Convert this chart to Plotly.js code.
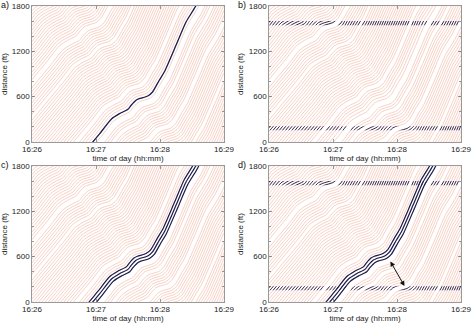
<!DOCTYPE html>
<html><head><meta charset="utf-8">
<script src="https://cdn.plot.ly/plotly-3.0.1.min.js"></script>
<style>html,body{margin:0;padding:0;background:#fff}#chart{width:474px;height:323px}</style>
</head><body><div id="chart"></div>
<script>
// ---- tick labels ----
const timeTickValues = [0, 60, 120, 180];            // seconds after 16:26:00
const timeTickLabels = ['16:26', '16:27', '16:28', '16:29'];
const distanceTicks = [0, 600, 1200, 1800];

// ---- highlighted (probe) vehicle trajectory: seconds after 16:26, feet ----
const probeTime     = [0,    57, 63.5, 74.5, 82,  90,  93,  97.5, 100.5, 108.5, 113, 119.3, 124, 135,  144.4, 153.5, 180];
const probeDistance = [-970, 0,  110,  305,  375, 432, 486, 552,  573,   609,   662, 817,   926, 1280, 1588,  1800,  2600];

// ---- car-following shift between consecutive vehicles ----
const waveLagTime = 1.35;  // s
const jamSpacing = 27;     // ft

// vehicle spacings (in vehicle steps) counted away from the probe vehicle
const leaderGaps = [1.2, 1, 1, 1, 2,
  1,1,1,1,1,1,1,1,1,1,1,1,1,1,1,1,1,1,1, 1.6,
  1,1,1,1,1,1,1, 2.2,
  1,1,1,1,1,1,1,1,1,1,1,1,1,1,1,1,1,1,1,1,1,1,1,1,1,1,1,1];
const followerGaps = [1.2, 2.6, 1, 1, 1.8,
  1,1,1,1,1,1, 2.2,
  1,1,1,1,1,1,1,1,1,1, 1.8,
  1,1,1,1,1,1,1,1,1,1,1,1,1,1,1,1,1];

// ---- loop detector zones (ft) ----
const detectorUpper = [1545, 1600];
const detectorLower = [155, 210];

// ---- arrow in panel d: [time s, distance ft] ----
const arrowFrom = [113, 556];
const arrowTo = [127, 212];

// ================= build =================
const vehicleSteps = [0];
let acc = 0;
leaderGaps.forEach(g => { acc -= g; vehicleSteps.unshift(acc); });
acc = 0;
followerGaps.forEach(g => { acc += g; vehicleSteps.push(acc); });
const leaderStep = -leaderGaps[0], followerStep = followerGaps[0];

function trajectory(step) {
  return {
    t: probeTime.map(t => t + step * waveLagTime),
    d: probeDistance.map(d => d - step * jamSpacing)
  };
}
function joined(steps) {
  const xs = [], ys = [];
  steps.forEach(s => {
    const tr = trajectory(s);
    xs.push(...tr.t, null); ys.push(...tr.d, null);
  });
  return {x: xs, y: ys};
}

const LIGHT = '#f2b19e';
const DARK = '#1b1d4d';
const all = joined(vehicleSteps);
const probeOnly = joined([0]);
const platoon = joined([leaderStep, 0, followerStep]);

function lineTrace(data, xa, ya, color, width) {
  return {x: data.x, y: data.y, xaxis: xa, yaxis: ya, type: 'scatter', mode: 'lines',
    line: {color: color, width: width, shape: 'spline', smoothing: 0.6},
    connectgaps: false, hoverinfo: 'skip', showlegend: false};
}

const traces = [];
// panel a
traces.push(lineTrace(all, 'x', 'y', LIGHT, 0.6));
traces.push(lineTrace(probeOnly, 'x', 'y', DARK, 1.3));
// panel b
traces.push(lineTrace(all, 'x2', 'y2', LIGHT, 0.6));
traces.push(lineTrace(all, 'x2', 'y5', DARK, 0.9));
traces.push(lineTrace(all, 'x2', 'y6', DARK, 0.9));
// panel c
traces.push(lineTrace(all, 'x3', 'y3', LIGHT, 0.6));
traces.push(lineTrace(platoon, 'x3', 'y3', DARK, 1.2));
// panel d
traces.push(lineTrace(all, 'x4', 'y4', LIGHT, 0.6));
traces.push(lineTrace(all, 'x4', 'y7', DARK, 0.9));
traces.push(lineTrace(all, 'x4', 'y8', DARK, 0.9));
traces.push(lineTrace(platoon, 'x4', 'y4', DARK, 1.2));

const W = 474, H = 323;
const colLeft = [32 / W, 224 / W];
const colRight = [269 / W, 461 / W];
const rowTop = [1 - 142 / H, 1 - 6 / H];
const rowBottom = [1 - 302 / H, 1 - 166 / H];

const FONT = 'Liberation Sans, Arial, Helvetica, sans-serif';
const AX = '#808080';

function xAxis(domain, anchor) {
  return {domain: domain, anchor: anchor, range: [0, 180],
    tickmode: 'array', tickvals: timeTickValues, ticktext: timeTickLabels,
    ticks: 'inside', ticklen: 3, tickwidth: 0.8, tickcolor: AX,
    showline: true, linecolor: AX, linewidth: 0.8, mirror: 'ticks',
    showgrid: false, zeroline: false,
    tickfont: {family: FONT, size: 8, color: '#222'},
    title: {text: 'time of day (hh:mm)', font: {family: FONT, size: 8, color: '#222'}, standoff: 1},
    fixedrange: true};
}
function yAxis(domain, anchor) {
  return {domain: domain, anchor: anchor, range: [0, 1800],
    tickmode: 'array', tickvals: distanceTicks,
    ticks: 'inside', ticklen: 3, tickwidth: 0.8, tickcolor: AX,
    minor: {tickmode: 'linear', tick0: 0, dtick: 200, ticks: 'inside', ticklen: 2, tickcolor: AX, showgrid: false},
    showline: true, linecolor: AX, linewidth: 0.8, mirror: 'ticks',
    showgrid: false, zeroline: false,
    tickfont: {family: FONT, size: 8, color: '#222'},
    title: {text: 'distance (ft)', font: {family: FONT, size: 8, color: '#222'}, standoff: 3},
    fixedrange: true};
}
function bandAxis(rowDomain, band, anchor) {
  const span = rowDomain[1] - rowDomain[0];
  return {domain: [rowDomain[0] + span * band[0] / 1800, rowDomain[0] + span * band[1] / 1800],
    anchor: anchor, range: band, visible: false, fixedrange: true};
}

function panelLabel(text, x, y) {
  return {text: text, xref: 'paper', yref: 'paper', x: x, y: y, xanchor: 'left', yanchor: 'middle',
    showarrow: false, font: {family: FONT, size: 9, color: '#111'}};
}

const layout = {
  width: W, height: H,
  margin: {l: 0, r: 0, t: 0, b: 0},
  paper_bgcolor: '#fff', plot_bgcolor: 'rgba(0,0,0,0)',
  showlegend: false,
  xaxis: xAxis(colLeft, 'y'), yaxis: yAxis(rowTop, 'x'),
  xaxis2: xAxis(colRight, 'y2'), yaxis2: yAxis(rowTop, 'x2'),
  xaxis3: xAxis(colLeft, 'y3'), yaxis3: yAxis(rowBottom, 'x3'),
  xaxis4: xAxis(colRight, 'y4'), yaxis4: yAxis(rowBottom, 'x4'),
  yaxis5: bandAxis(rowTop, detectorUpper, 'x2'),
  yaxis6: bandAxis(rowTop, detectorLower, 'x2'),
  yaxis7: bandAxis(rowBottom, detectorUpper, 'x4'),
  yaxis8: bandAxis(rowBottom, detectorLower, 'x4'),
  annotations: [
    panelLabel('a)', -0.002, 1 - 5 / H),
    panelLabel('b)', 237 / W - 0.002, 1 - 5 / H),
    panelLabel('c)', -0.002, 1 - 165 / H),
    panelLabel('d)', 237 / W - 0.002, 1 - 165 / H),
    {x: arrowTo[0], y: arrowTo[1], xref: 'x4', yref: 'y4',
     ax: arrowFrom[0], ay: arrowFrom[1], axref: 'x4', ayref: 'y4',
     text: '', showarrow: true, arrowside: 'end+start', arrowhead: 2, startarrowhead: 2,
     arrowsize: 1, startarrowsize: 1, arrowwidth: 1, arrowcolor: '#111'}
  ]
};

Plotly.newPlot('chart', traces, layout, {staticPlot: true, displayModeBar: false});
</script>
</body></html>
